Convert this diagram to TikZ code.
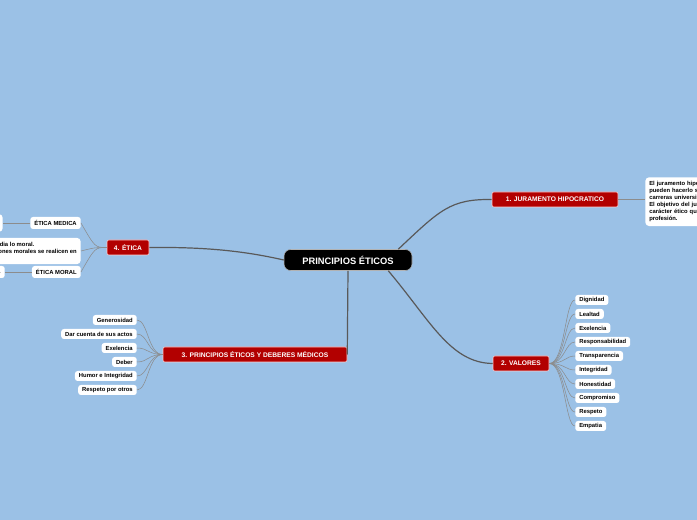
\documentclass[tikz,border=0pt]{standalone}
\usepackage{fontspec}
\setmainfont{Liberation Sans}
\begin{document}
\begin{tikzpicture}[x=0.75pt,y=-0.75pt,
  font=\bfseries,
  main/.style={fill=black,draw=gray!60,rounded corners=5pt,text=white,font=\bfseries\fontsize{7}{8}\selectfont,minimum width=128*0.75pt,minimum height=21*0.75pt,inner sep=1pt},
  topic/.style={fill=red!70!black,draw=white!80!red,rounded corners=1.5pt,text=white,font=\bfseries\fontsize{5}{6}\selectfont,minimum height=15*0.75pt,inner xsep=3pt,inner ysep=1pt},
  leaf/.style={fill=white,rounded corners=2pt,font=\bfseries\fontsize{4.4}{5}\selectfont,minimum height=10*0.75pt,inner xsep=3pt,inner ysep=1pt},
  para/.style={fill=white,rounded corners=3pt,font=\bfseries\fontsize{4.4}{5.3}\selectfont,align=left,inner sep=3pt},
  mainedge/.style={draw=black!65,line width=0.9pt},
  leafedge/.style={draw=black!45,line width=0.4pt}]
\fill[fill={rgb,255:red,155;green,193;blue,230}] (0,0) rectangle (697,520);
\useasboundingbox (0,0) rectangle (697,520);
\clip (0,0) rectangle (697,520);
\node[main] (c) at (348,260) {PRINCIPIOS ÉTICOS};
\node[topic,minimum width=126*0.75pt] (t1) at (555,199.5) {1. JURAMENTO HIPOCRATICO};
\node[topic,minimum width=56*0.75pt] (t2) at (521,363.5) {2. VALORES};
\node[topic,minimum width=184*0.75pt] (t3) at (255,354.5) {3. PRINCIPIOS ÉTICOS Y DEBERES MÉDICOS};
\node[topic,minimum width=42*0.75pt] (t4) at (128,247.5) {4. ÉTICA};
\draw[mainedge] (c.north east) ++(-14,0) coordinate (c1) (c1) .. controls (440,210) and (450,199) .. (t1.west);
\draw[mainedge] (c.south east) ++(-24,0) coordinate (c2) (c2) .. controls (430,320) and (450,363) .. (t2.west);
\draw[mainedge] (c.south) -- (t3.east);
\draw[mainedge] (c.west) .. controls (240,250) and (200,247) .. (t4.east);
% 1
\node[para,anchor=north west,text width=80*0.75pt] (p1) at (645,177) {El juramento hipocrático\\pueden hacerlo solo\\carreras universitarias\\El objetivo del juramento\\carácter ético que tiene la\\profesión.};
\draw[leafedge] (t1.east) -- (p1.west |- t1.east);
% 2
\foreach \t [count=\i] in {Dignidad,Lealtad,Exelencia,Responsabilidad,Transparencia,Integridad,Honestidad,Compromiso,Respeto,Empatia}{
  \node[leaf,anchor=west] (v\i) at (575,286+14*\i) {\t};
  \draw[leafedge] (t2.east) .. controls (565,363.5) and (565,286+14*\i) .. (v\i.west);
}
% 3
\foreach \t [count=\i] in {Generosidad,Dar cuenta de sus actos,Exelencia,Deber,Humor e Integridad,Respeto por otros}{
  \node[leaf,anchor=east] (d\i) at (137,306+14*\i) {\t};
  \draw[leafedge] (t3.west) .. controls (148,354.5) and (148,306+14*\i) .. (d\i.east);
}
% 4
\node[leaf,anchor=east,minimum height=12*0.75pt] (e1) at (81,223) {ÉTICA MEDICA};
\node[para,anchor=east] (e2) at (81,251) {La ética estudia lo moral.\\Que las acciones morales se realicen en\\};
\node[leaf,anchor=east,minimum height=12*0.75pt] (e3) at (81,272) {ÉTICA MORAL};
\node[para,anchor=east,minimum height=18*0.75pt] (e1a) at (3,223) {Estudio ético};
\node[leaf,anchor=east,minimum height=12*0.75pt] (e3a) at (5,272) {Normas.};
\foreach \n in {e1,e2,e3}{
  \draw[leafedge] (t4.west) .. controls (95,247.5) and (95,247.5) .. (\n.east);
}
\draw[leafedge] (e1.west) -- (e1a.east);
\draw[leafedge] (e3.west) -- (e3a.east);
\end{tikzpicture}
\end{document}
